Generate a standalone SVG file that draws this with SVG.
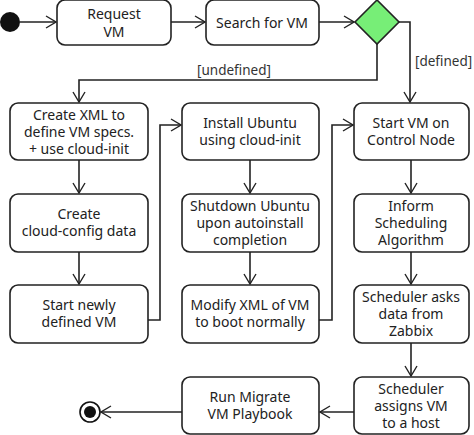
<svg xmlns="http://www.w3.org/2000/svg" width="474" height="435" viewBox="0 0 474 435">
<style>
.box{fill:#fff;stroke:#222;stroke-width:1.6}
.t{font-family:"Noto Sans","Open Sans",sans-serif;font-size:14px;fill:#222;text-anchor:middle}
.lbl{font-family:"Noto Sans","Open Sans",sans-serif;font-size:13.5px;fill:#333}
.c{fill:none;stroke:#222;stroke-width:1.6}
</style>
<defs>
<marker id="a" viewBox="0 0 12 14" refX="11" refY="7" markerWidth="12" markerHeight="14" markerUnits="userSpaceOnUse" orient="auto">
<path d="M1,1 L11,7 L1,13" fill="none" stroke="#222" stroke-width="1.4"/>
</marker>
</defs>
<rect width="474" height="435" fill="#fff"/>
<g id="connectors">
<path class="c" d="M20,22 H56" marker-end="url(#a)"/>
<path class="c" d="M171,22 H205" marker-end="url(#a)"/>
<path class="c" d="M319,22 H354" marker-end="url(#a)"/>
<path class="c" d="M399,22 H410 V102" marker-end="url(#a)"/>
<path class="c" d="M377,44 V80 H79 V102" marker-end="url(#a)"/>
<path class="c" d="M79,160 V193" marker-end="url(#a)"/>
<path class="c" d="M79,252 V284" marker-end="url(#a)"/>
<path class="c" d="M148,320 H160 V125 H181" marker-end="url(#a)"/>
<path class="c" d="M250,160 V193" marker-end="url(#a)"/>
<path class="c" d="M250,252 V284" marker-end="url(#a)"/>
<path class="c" d="M319,320 H332 V125 H353" marker-end="url(#a)"/>
<path class="c" d="M411,160 V193" marker-end="url(#a)"/>
<path class="c" d="M411,252 V284" marker-end="url(#a)"/>
<path class="c" d="M411,343 V376" marker-end="url(#a)"/>
<path class="c" d="M354,412 H320" marker-end="url(#a)"/>
<path class="c" d="M182,412 H101" marker-end="url(#a)"/>
<text class="lbl" x="197" y="75">[undefined]</text>
<text class="lbl" x="415" y="66">[defined]</text>
</g>
<g id="start"><circle cx="10" cy="22" r="10" fill="#111"/></g>
<g id="request"><rect class="box" x="57" y="0" width="114" height="45" rx="8"/><text class="t" x="114" y="19">Request</text><text class="t" x="114" y="37">VM</text></g>
<g id="search"><rect class="box" x="206" y="0" width="113" height="45" rx="8"/><text class="t" x="262" y="28">Search for VM</text></g>
<g id="decision"><polygon points="377,0 399,22 377,44 355,22" fill="#77ee77" stroke="#222" stroke-width="1.6"/></g>
<g id="createxml"><rect class="box" x="10" y="103" width="138" height="57" rx="8"/><text class="t" x="79" y="120">Create XML to</text><text class="t" x="79" y="137">define VM specs.</text><text class="t" x="79" y="154">+ use cloud-init</text></g>
<g id="install"><rect class="box" x="182" y="103" width="137" height="57" rx="8"/><text class="t" x="250" y="128">Install Ubuntu</text><text class="t" x="250" y="145">using cloud-init</text></g>
<g id="startvm"><rect class="box" x="354" y="103" width="115" height="57" rx="8"/><text class="t" x="411" y="128">Start VM on</text><text class="t" x="411" y="145">Control Node</text></g>
<g id="cloudconfig"><rect class="box" x="10" y="194" width="138" height="58" rx="8"/><text class="t" x="79" y="219">Create</text><text class="t" x="79" y="236">cloud-config data</text></g>
<g id="shutdown"><rect class="box" x="182" y="194" width="137" height="58" rx="8"/><text class="t" x="250" y="211">Shutdown Ubuntu</text><text class="t" x="250" y="228">upon autoinstall</text><text class="t" x="250" y="245">completion</text></g>
<g id="inform"><rect class="box" x="354" y="194" width="115" height="58" rx="8"/><text class="t" x="411" y="211">Inform</text><text class="t" x="411" y="228">Scheduling</text><text class="t" x="411" y="245">Algorithm</text></g>
<g id="startnew"><rect class="box" x="10" y="285" width="138" height="58" rx="8"/><text class="t" x="79" y="310">Start newly</text><text class="t" x="79" y="327">defined VM</text></g>
<g id="modify"><rect class="box" x="182" y="285" width="137" height="58" rx="8"/><text class="t" x="250" y="310">Modify XML of VM</text><text class="t" x="250" y="327">to boot normally</text></g>
<g id="asks"><rect class="box" x="354" y="285" width="115" height="58" rx="8"/><text class="t" x="411" y="302">Scheduler asks</text><text class="t" x="411" y="319">data from</text><text class="t" x="411" y="336">Zabbix</text></g>
<g id="migrate"><rect class="box" x="182" y="377" width="137" height="57" rx="8"/><text class="t" x="250" y="402">Run Migrate</text><text class="t" x="250" y="419">VM Playbook</text></g>
<g id="assigns"><rect class="box" x="354" y="377" width="115" height="57" rx="8"/><text class="t" x="411" y="394">Scheduler</text><text class="t" x="411" y="411">assigns VM</text><text class="t" x="411" y="428">to a host</text></g>
<g id="end"><circle cx="90" cy="412" r="10" fill="#fff" stroke="#111" stroke-width="1.6"/><circle cx="90" cy="412" r="6" fill="#111"/></g>
</svg>
